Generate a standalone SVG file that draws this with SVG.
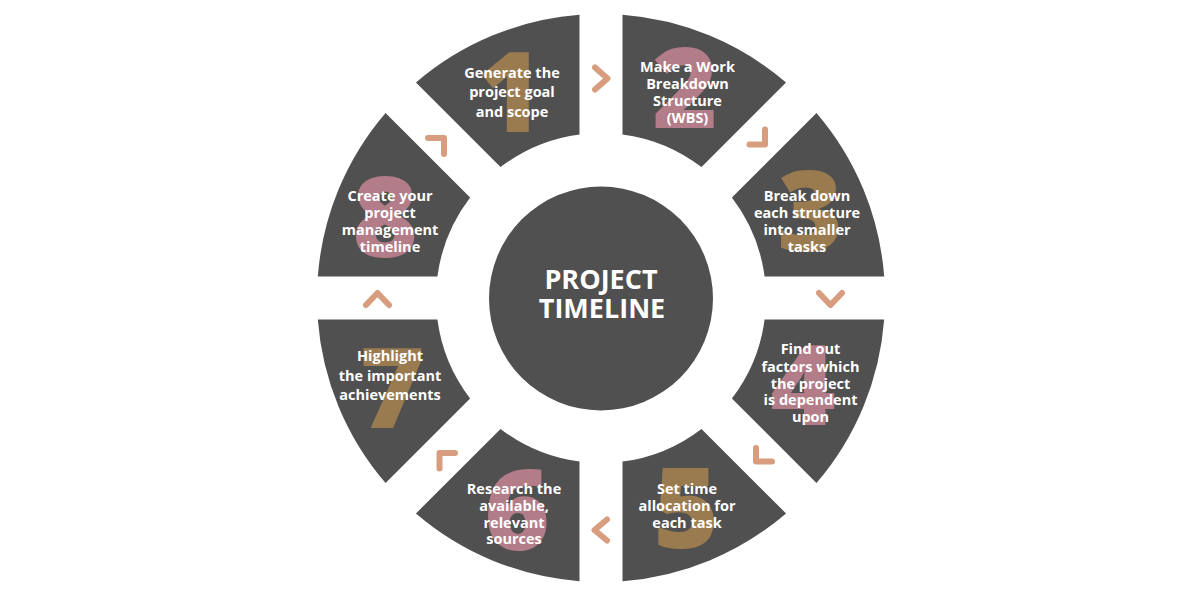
<svg xmlns="http://www.w3.org/2000/svg" xmlns:xlink="http://www.w3.org/1999/xlink" width="1200" height="600" viewBox="0 0 1200 600">
<style>
.seg{fill:#505050}
.num{font-family:"Open Sans","Liberation Sans",sans-serif;font-weight:800;font-size:112px;text-anchor:middle}
.gold{fill:#9a7b4f}
.pink{fill:#b27c88}
.lbl{font-family:"Open Sans","Liberation Sans",sans-serif;font-weight:700;font-size:14.5px;fill:#ffffff;text-anchor:middle}
.title{font-family:"Open Sans","Liberation Sans",sans-serif;font-weight:700;font-size:27px;fill:#ffffff;text-anchor:middle}
.chev{fill:none;stroke:#d89d7f;stroke-width:6;stroke-linecap:round;stroke-linejoin:round}
</style>
<defs>
<path id="seg" class="seg" d="M415.96,82.56 A284,284 0 0 1 579.5,14.81 L579.5,134.41 A165,165 0 0 0 500.52,167.12 Z"/>
</defs>
<rect width="1200" height="600" fill="#ffffff"/>
<g id="node-1">
<use xlink:href="#seg" href="#seg"/>
<text class="num gold" x="510" y="132">1</text>
<text class="lbl" x="512" y="78">Generate the</text>
<text class="lbl" x="512" y="97">project goal</text>
<text class="lbl" x="512" y="116.5">and scope</text>
</g>
<g id="node-2">
<use xlink:href="#seg" href="#seg" transform="rotate(45 601 298)"/>
<text class="num pink" x="685" y="128">2</text>
<text class="lbl" x="687.5" y="72">Make a Work</text>
<text class="lbl" x="687.5" y="89">Breakdown</text>
<text class="lbl" x="687.5" y="106">Structure</text>
<text class="lbl" x="687.5" y="123">(WBS)</text>
</g>
<g id="node-3">
<use xlink:href="#seg" href="#seg" transform="rotate(90 601 298)"/>
<text class="num gold" x="810" y="251">3</text>
<text class="lbl" x="807" y="201">Break down</text>
<text class="lbl" x="807" y="218">each structure</text>
<text class="lbl" x="807" y="235">into smaller</text>
<text class="lbl" x="807" y="251.5">tasks</text>
</g>
<g id="node-4">
<use xlink:href="#seg" href="#seg" transform="rotate(135 601 298)"/>
<text class="num pink" x="803" y="425">4</text>
<text class="lbl" x="810.5" y="354">Find out</text>
<text class="lbl" x="810.5" y="371.5">factors which</text>
<text class="lbl" x="810.5" y="388.5">the project</text>
<text class="lbl" x="810.5" y="405">is dependent</text>
<text class="lbl" x="810.5" y="421.5">upon</text>
</g>
<g id="node-5">
<use xlink:href="#seg" href="#seg" transform="rotate(180 601 298)"/>
<text class="num gold" x="686" y="548">5</text>
<text class="lbl" x="687" y="494">Set time</text>
<text class="lbl" x="687" y="510.5">allocation for</text>
<text class="lbl" x="687" y="527.5">each task</text>
</g>
<g id="node-6">
<use xlink:href="#seg" href="#seg" transform="rotate(225 601 298)"/>
<text class="num pink" x="517" y="550">6</text>
<text class="lbl" x="514" y="494">Research the</text>
<text class="lbl" x="514" y="510.5">available,</text>
<text class="lbl" x="514" y="527.5">relevant</text>
<text class="lbl" x="514" y="544">sources</text>
</g>
<g id="node-7">
<use xlink:href="#seg" href="#seg" transform="rotate(270 601 298)"/>
<text class="num gold" x="392" y="428">7</text>
<text class="lbl" x="390" y="361">Highlight</text>
<text class="lbl" x="390" y="380.5">the important</text>
<text class="lbl" x="390" y="399.5">achievements</text>
</g>
<g id="node-8">
<use xlink:href="#seg" href="#seg" transform="rotate(315 601 298)"/>
<text class="num pink" x="385" y="257">8</text>
<text class="lbl" x="390" y="201">Create your</text>
<text class="lbl" x="390" y="218">project</text>
<text class="lbl" x="390" y="235">management</text>
<text class="lbl" x="390" y="251.5">timeline</text>
</g>
<g id="center">
<circle cx="601" cy="298.5" r="112" fill="#505050"/>
<text class="title" x="601" y="288.5">PROJECT</text>
<text class="title" x="602" y="317.5">TIMELINE</text>
</g>
<g id="connectors">
<path class="chev" d="M595,67.5 L607.5,78.5 L595,89.5"/>
<path class="chev" d="M765,129.5 L765,144.5 L749.5,144.5"/>
<path class="chev" d="M819,293 L830.5,305 L842,293"/>
<path class="chev" d="M756,448 L756,461.5 L772,461.5"/>
<path class="chev" d="M607,519.5 L594.5,530 L607,540.5"/>
<path class="chev" d="M455,453 L439.5,453 L439.5,468.5"/>
<path class="chev" d="M366,305 L377.5,293 L389,305"/>
<path class="chev" d="M428,138 L444,138 L444,154"/>
</g>
</svg>
